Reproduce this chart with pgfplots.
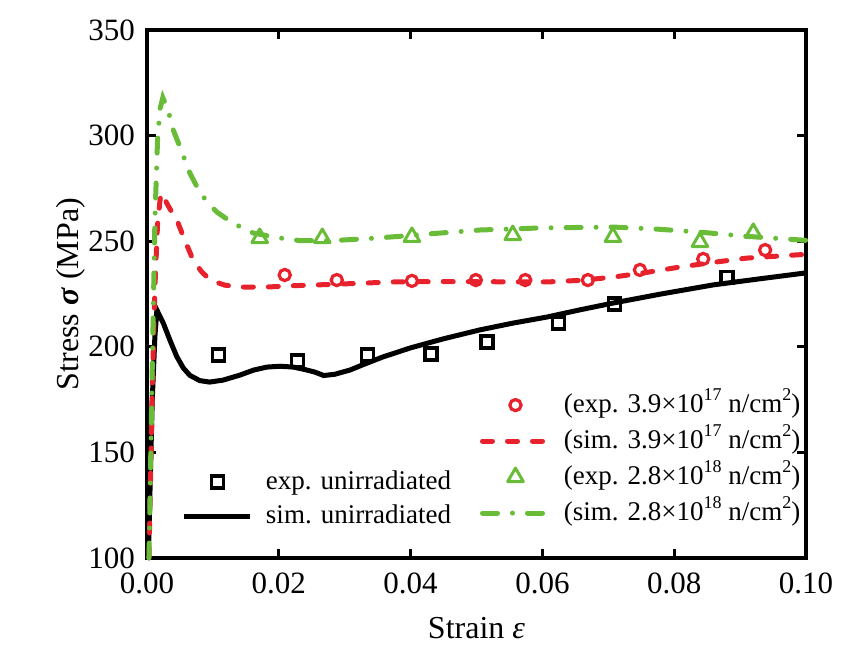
\documentclass[border=0pt]{standalone}
\usepackage{fontspec}
\setmainfont{Liberation Serif}
\usepackage{pgfplots}
\pgfplotsset{compat=1.18}
\usepackage{pgfplotstable}

\definecolor{simred}{RGB}{232,34,44}
\definecolor{simgreen}{RGB}{104,188,56}

\newcommand\sups[1]{\raisebox{0.42em}{\fontsize{18}{20}\selectfont #1}}

% simulated curves
\pgfplotstableread{
x y
0.0002 100
0.0008 175
0.0012 205
0.0015 217.4
0.0025 211
0.0035 203
0.0045 195.5
0.0055 190
0.0065 186.5
0.0080 184
0.0095 183.3
0.0115 184.2
0.0141 186.6
0.0162 189
0.0182 190.4
0.0202 190.8
0.0222 190.4
0.0240 189.2
0.0255 188
0.0268 186.4
0.0285 187
0.0308 189
0.0330 191.8
0.0358 195.2
0.0400 199.5
0.0450 203.8
0.0505 208
0.0555 211.2
0.0607 214.1
0.0657 217.5
0.0707 220.7
0.0780 225
0.0859 229.3
0.0930 232.2
0.1000 235
}\simUnirr

\pgfplotstableread{
x y
0.0003 100
0.0008 180
0.0012 228
0.0016 258
0.0020 270
0.0023 272.8
0.0030 268
0.0040 262.5
0.0046 259.5
0.0058 250
0.0070 241.1
0.0083 235.5
0.0096 231.6
0.0118 229.2
0.0141 228.3
0.0182 228.3
0.0220 228.9
0.0258 229.3
0.0300 229.8
0.0373 230.7
0.0450 230.9
0.0530 230.8
0.0607 230.7
0.0660 231.5
0.0707 233
0.0760 235.3
0.0809 237.8
0.0860 240
0.0910 242
0.1000 243.8
}\simLow

\pgfplotstableread{
x y
0.0003 100
0.0008 190
0.0012 260
0.0016 298
0.0020 313
0.0024 318
0.0032 312
0.0040 302.5
0.0050 294.6
0.0065 282.3
0.0080 273.3
0.0093 268
0.0106 263.8
0.0130 258.6
0.0161 253.9
0.0197 251.7
0.0232 250.3
0.0282 250.3
0.0334 251.2
0.0379 252.2
0.0430 253.5
0.0505 255.3
0.0600 256.3
0.0707 256.7
0.0770 255.8
0.0835 254.4
0.0910 252.3
0.1000 250.4
}\simHigh

% experimental points
\pgfplotstableread{
x y
0.0108 196.1
0.0228 193.3
0.0335 196.1
0.0431 196.6
0.0516 202.3
0.0625 211.3
0.0710 220.3
0.0880 233.0
}\expUnirr

\pgfplotstableread{
x y
0.0209 234
0.0288 231.6
0.0402 231.2
0.0499 231.6
0.0574 231.6
0.0669 231.6
0.0748 236.4
0.0844 241.6
0.0938 245.8
}\expLow

\pgfplotstableread{
x y
0.0171 251.5
0.0266 251.5
0.0402 252
0.0555 252.9
0.0707 252
0.0839 249.6
0.0920 253.9
}\expHigh

\pgfplotsset{
  frame/.style={
    at={(0pt,0pt)}, anchor=south west,
    scale only axis, width=659pt, height=528pt,
  },
  legend image code/.code={%
    \draw[mark repeat=2,mark phase=2,#1]
      plot coordinates {(0pt,0pt) (33pt,0pt) (66pt,0pt)};},
  legendbase/.style={
    legend cell align=left,
    legend style={
      draw=none, fill=none, inner sep=0pt, outer sep=0pt,
      column sep=13pt,
      font=\fontsize{27}{32}\selectfont,
      nodes={inner sep=0pt, text height=22pt, text depth=8pt},
    },
  },
}

\begin{document}
\begin{tikzpicture}
\path[use as bounding box] (-147pt,-99pt) rectangle (701pt,558pt);
\begin{axis}[
  frame, legendbase,
  xmin=0, xmax=0.1, ymin=100, ymax=350,
  xtick={0,0.02,0.04,0.06,0.08,0.1},
  ytick={100,150,200,250,300,350},
  scaled x ticks=false,
  /pgf/number format/assume math mode=true,
  x tick label style={/pgf/number format/fixed,
    /pgf/number format/fixed zerofill,
    /pgf/number format/precision=2,
    inner sep=0pt, anchor=north, yshift=-15pt},
  y tick label style={inner sep=0pt, anchor=east, xshift=-12pt},
  tick label style={font=\fontsize{31}{37}\selectfont},
  tick align=inside, tick pos=both,
  major tick length=9pt,
  every tick/.style={black, line width=3pt},
  axis line style={line width=3.2pt},
  every axis x label/.style={at={(axis description cs:0.5,-0.1515)}, anchor=base},
  every axis y label/.style={at={(ticklabel cs:0.5)}, rotate=90, anchor=near ticklabel, inner sep=3pt},
  label style={font=\fontsize{32}{38}\selectfont},
  xlabel={Strain \textit{ε}},
  ylabel={Stress \textbf{\textit{σ}} (MPa)},
  clip=false,
  legend style={at={(axis description cs:0.5053,0.318)}, anchor=north west, row sep=6pt},
]
\addplot[black, line width=5pt, forget plot] table {\simUnirr};
\addplot[black, only marks, mark=square, mark size=6pt, mark options={line width=3.2pt}, forget plot] table {\expUnirr};

\addplot[simred, only marks, mark=o, mark size=5.6pt, mark options={line width=3.2pt}] table {\expLow};
\addlegendentry{(exp. 3.9×10\sups{17} n/cm\sups{2})}
\addplot[simred, line width=5pt, line cap=round, dash pattern=on 10pt off 15pt] table {\simLow};
\addlegendentry{(sim. 3.9×10\sups{17} n/cm\sups{2})}
\addplot[simgreen, only marks, mark=triangle, mark size=9pt, mark options={line width=3pt, line join=round}] table {\expHigh};
\addlegendentry{(exp. 2.8×10\sups{18} n/cm\sups{2})}
\addplot[simgreen, line width=5pt, line cap=round, dash pattern=on 15pt off 15pt on 0pt off 15pt] table {\simHigh};
\addlegendentry{(sim. 2.8×10\sups{18} n/cm\sups{2})}
\end{axis}

\begin{axis}[
  frame, legendbase, hide axis,
  xmin=0, xmax=1, ymin=0, ymax=1,
  legend style={at={(axis description cs:0.0531,0.1723)}, anchor=north west, row sep=4pt},
]
\addlegendimage{black, only marks, mark=square, mark size=6pt, mark options={line width=3.2pt}}
\addlegendentry{exp. unirradiated}
\addlegendimage{black, line width=5pt}
\addlegendentry{sim. unirradiated}
\end{axis}
\end{tikzpicture}
\end{document}
